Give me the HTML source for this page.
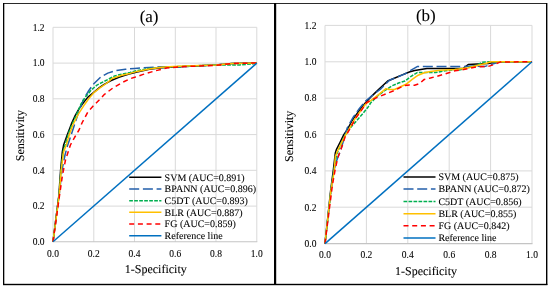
<!DOCTYPE html>
<html><head><meta charset="utf-8"><title>ROC curves</title>
<style>
html,body{margin:0;padding:0;background:#fff;width:550px;height:288px;overflow:hidden;}
svg{display:block;filter:blur(0.3px);}
text{font-family:"Liberation Serif", "Times New Roman", serif;text-rendering:geometricPrecision;fill:#000;stroke:#000;stroke-width:0.08px;}
.t{font-size:9.5px;text-rendering:auto;}
.lg{font-size:10px;}
.at{font-size:12px;}
.ti{font-size:17px;}
</style></head><body>
<svg width="550" height="288" viewBox="0 0 550 288">
<rect width="550" height="288" fill="#fff"/>
<line x1="53.0" y1="206.1" x2="256.8" y2="206.1" stroke="#D9D9D9" stroke-width="1"/>
<line x1="53.0" y1="170.3" x2="256.8" y2="170.3" stroke="#D9D9D9" stroke-width="1"/>
<line x1="53.0" y1="134.6" x2="256.8" y2="134.6" stroke="#D9D9D9" stroke-width="1"/>
<line x1="53.0" y1="98.8" x2="256.8" y2="98.8" stroke="#D9D9D9" stroke-width="1"/>
<line x1="53.0" y1="63.1" x2="256.8" y2="63.1" stroke="#D9D9D9" stroke-width="1"/>
<line x1="53.0" y1="27.3" x2="256.8" y2="27.3" stroke="#D9D9D9" stroke-width="1"/>
<line x1="53.0" y1="27.3" x2="53.0" y2="241.8" stroke="#D9D9D9" stroke-width="1"/>
<line x1="93.8" y1="27.3" x2="93.8" y2="241.8" stroke="#D9D9D9" stroke-width="1"/>
<line x1="134.5" y1="27.3" x2="134.5" y2="241.8" stroke="#D9D9D9" stroke-width="1"/>
<line x1="175.3" y1="27.3" x2="175.3" y2="241.8" stroke="#D9D9D9" stroke-width="1"/>
<line x1="216.0" y1="27.3" x2="216.0" y2="241.8" stroke="#D9D9D9" stroke-width="1"/>
<line x1="256.8" y1="27.3" x2="256.8" y2="241.8" stroke="#D9D9D9" stroke-width="1"/>
<line x1="52.5" y1="241.8" x2="257.3" y2="241.8" stroke="#C4C4C4" stroke-width="1.1"/>
<text x="44.5" y="245" text-anchor="end" class="t">0.0</text>
<text x="44.5" y="209" text-anchor="end" class="t">0.2</text>
<text x="44.5" y="174" text-anchor="end" class="t">0.4</text>
<text x="44.5" y="138" text-anchor="end" class="t">0.6</text>
<text x="44.5" y="102" text-anchor="end" class="t">0.8</text>
<text x="44.5" y="66" text-anchor="end" class="t">1.0</text>
<text x="44.5" y="31" text-anchor="end" class="t">1.2</text>
<text x="53.0" y="257.0" text-anchor="middle" class="t">0.0</text>
<text x="93.8" y="257.0" text-anchor="middle" class="t">0.2</text>
<text x="134.5" y="257.0" text-anchor="middle" class="t">0.4</text>
<text x="175.3" y="257.0" text-anchor="middle" class="t">0.6</text>
<text x="216.0" y="257.0" text-anchor="middle" class="t">0.8</text>
<text x="256.8" y="257.0" text-anchor="middle" class="t">1.0</text>
<polyline points="53.0,241.8 58.9,195.0 60.6,170.0 62.3,152.0 63.7,144.7 67.2,135.0 71.4,123.9 74.6,116.7 79.4,108.2 83.2,103.0 87.7,97.4 93.5,92.6 99.4,87.7 104.2,84.3 110.6,80.8 118.9,77.3 125.0,75.4 130.0,73.8 137.2,72.0 149.3,69.3 161.5,67.8 185.0,66.5 216.0,64.9 232.0,63.4 256.8,63.0" fill="none" stroke="#000000" stroke-width="1.5" stroke-linejoin="round"/>
<polyline points="53.0,241.8 59.2,195.0 62.0,170.0 65.0,155.0 67.4,146.0 70.7,136.4 74.8,123.9 79.0,111.0 83.6,99.2 88.0,91.8 93.2,84.3 100.5,77.3 107.8,73.1 116.1,70.6 125.5,69.3 134.7,68.4 149.3,67.4 161.5,66.8 185.0,66.6 216.0,64.9 232.0,63.4 256.8,63.0" fill="none" stroke="#235FAA" stroke-width="1.5" stroke-linejoin="round" stroke-dasharray="10 3.7"/>
<polyline points="53.0,241.8 59.0,195.0 61.0,170.0 63.5,150.0 66.5,140.0 70.0,129.0 73.4,121.6 78.2,110.7 80.9,104.2 85.8,96.4 91.6,89.7 97.4,84.8 103.2,81.9 108.0,79.5 114.7,75.9 121.7,74.2 130.0,72.4 137.2,70.6 149.3,68.4 165.1,67.2 185.0,66.2 216.0,65.0 240.0,64.9 256.8,63.5" fill="none" stroke="#00B050" stroke-width="1.5" stroke-linejoin="round" stroke-dasharray="3.7 1.3"/>
<polyline points="53.0,241.8 59.2,195.0 61.2,170.0 63.5,152.0 66.3,145.0 69.2,135.0 72.8,125.0 78.2,114.3 84.8,104.2 89.7,97.4 94.5,92.1 100.3,87.7 107.0,83.0 112.0,78.5 121.7,75.2 130.0,73.4 137.2,71.4 149.3,69.0 161.5,67.2 173.6,66.5 185.0,66.0 216.0,64.9 232.0,63.4 256.8,63.0" fill="none" stroke="#FFC000" stroke-width="1.5" stroke-linejoin="round"/>
<polyline points="53.0,241.8 59.6,195.0 62.5,175.0 65.5,160.0 70.4,145.0 74.5,137.5 79.0,130.0 82.2,122.5 87.9,111.9 94.2,105.0 99.4,99.8 104.5,94.3 113.3,87.7 121.7,82.8 130.0,78.7 134.7,77.3 143.2,74.4 155.4,70.8 167.5,67.8 185.0,66.6 216.0,65.3 232.0,63.5 256.8,63.0" fill="none" stroke="#FF0000" stroke-width="1.5" stroke-linejoin="round" stroke-dasharray="5 3.7"/>
<line x1="53.0" y1="241.8" x2="256.8" y2="63.1" stroke="#0070C0" stroke-width="1.5"/>
<line x1="129.2" y1="177.3" x2="161.4" y2="177.3" stroke="#000000" stroke-width="1.5"/>
<text x="164.6" y="181" class="lg">SVM (AUC=0.891)</text>
<line x1="129.2" y1="189.1" x2="161.4" y2="189.1" stroke="#235FAA" stroke-width="1.5" stroke-dasharray="10 3.7"/>
<text x="164.6" y="192" class="lg">BPANN (AUC=0.896)</text>
<line x1="129.2" y1="200.7" x2="161.4" y2="200.7" stroke="#00B050" stroke-width="1.5" stroke-dasharray="3.7 1.3"/>
<text x="164.6" y="204" class="lg">C5DT (AUC=0.893)</text>
<line x1="129.2" y1="212.2" x2="161.4" y2="212.2" stroke="#FFC000" stroke-width="1.5"/>
<text x="164.6" y="216" class="lg">BLR (AUC=0.887)</text>
<line x1="129.2" y1="224.0" x2="161.4" y2="224.0" stroke="#FF0000" stroke-width="1.5" stroke-dasharray="5 3.7"/>
<text x="164.6" y="227" class="lg">FG (AUC=0.859)</text>
<line x1="129.2" y1="235.8" x2="161.4" y2="235.8" stroke="#0070C0" stroke-width="1.5"/>
<text x="164.6" y="239" class="lg">Reference line</text>
<text x="149.1" y="22.1" text-anchor="middle" class="ti">(a)</text>
<text transform="translate(24.0,135.6) rotate(-90)" text-anchor="middle" class="at">Sensitivity</text>
<text x="155.8" y="273.2" text-anchor="middle" class="at">1-Specificity</text>
<line x1="325.0" y1="207.2" x2="532.0" y2="207.2" stroke="#D9D9D9" stroke-width="1"/>
<line x1="325.0" y1="170.9" x2="532.0" y2="170.9" stroke="#D9D9D9" stroke-width="1"/>
<line x1="325.0" y1="134.5" x2="532.0" y2="134.5" stroke="#D9D9D9" stroke-width="1"/>
<line x1="325.0" y1="98.2" x2="532.0" y2="98.2" stroke="#D9D9D9" stroke-width="1"/>
<line x1="325.0" y1="61.8" x2="532.0" y2="61.8" stroke="#D9D9D9" stroke-width="1"/>
<line x1="325.0" y1="25.4" x2="532.0" y2="25.4" stroke="#D9D9D9" stroke-width="1"/>
<line x1="325.0" y1="25.4" x2="325.0" y2="243.6" stroke="#D9D9D9" stroke-width="1"/>
<line x1="366.4" y1="25.4" x2="366.4" y2="243.6" stroke="#D9D9D9" stroke-width="1"/>
<line x1="407.8" y1="25.4" x2="407.8" y2="243.6" stroke="#D9D9D9" stroke-width="1"/>
<line x1="449.2" y1="25.4" x2="449.2" y2="243.6" stroke="#D9D9D9" stroke-width="1"/>
<line x1="490.6" y1="25.4" x2="490.6" y2="243.6" stroke="#D9D9D9" stroke-width="1"/>
<line x1="532.0" y1="25.4" x2="532.0" y2="243.6" stroke="#D9D9D9" stroke-width="1"/>
<line x1="324.5" y1="243.6" x2="532.5" y2="243.6" stroke="#C4C4C4" stroke-width="1.1"/>
<text x="316.4" y="247" text-anchor="end" class="t">0.0</text>
<text x="316.4" y="211" text-anchor="end" class="t">0.2</text>
<text x="316.4" y="174" text-anchor="end" class="t">0.4</text>
<text x="316.4" y="138" text-anchor="end" class="t">0.6</text>
<text x="316.4" y="101" text-anchor="end" class="t">0.8</text>
<text x="316.4" y="65" text-anchor="end" class="t">1.0</text>
<text x="316.4" y="29" text-anchor="end" class="t">1.2</text>
<text x="325.0" y="258.2" text-anchor="middle" class="t">0.0</text>
<text x="366.4" y="258.2" text-anchor="middle" class="t">0.2</text>
<text x="407.8" y="258.2" text-anchor="middle" class="t">0.4</text>
<text x="449.2" y="258.2" text-anchor="middle" class="t">0.6</text>
<text x="490.6" y="258.2" text-anchor="middle" class="t">0.8</text>
<text x="532.0" y="258.2" text-anchor="middle" class="t">1.0</text>
<polyline points="325.0,243.5 330.7,190.0 333.3,170.4 335.3,153.0 336.5,149.3 340.2,142.0 343.8,134.7 347.4,129.3 352.2,120.5 358.2,112.0 364.3,104.1 370.4,97.4 378.5,89.6 387.7,81.0 394.3,78.2 401.6,75.1 410.0,71.8 414.7,70.6 426.9,68.4 441.5,68.4 450.0,68.6 463.6,68.2 468.2,64.5 477.3,64.1 488.2,63.6 495.5,62.3 500.0,61.9 532.0,61.7" fill="none" stroke="#000000" stroke-width="1.5" stroke-linejoin="round"/>
<polyline points="325.0,243.5 331.0,190.0 334.0,170.0 335.9,162.6 337.7,157.8 340.2,151.7 343.8,139.6 347.3,127.8 353.4,116.9 359.4,108.4 365.5,101.1 372.8,95.0 380.9,88.8 389.4,80.3 396.0,77.6 405.0,73.9 411.1,70.2 417.2,66.6 423.2,66.6 455.0,66.6 463.6,66.4 472.7,65.9 484.5,66.6 490.9,64.5 500.0,61.9 532.0,61.7" fill="none" stroke="#235FAA" stroke-width="1.5" stroke-linejoin="round" stroke-dasharray="10 3.7"/>
<polyline points="325.0,243.5 331.0,190.0 334.0,170.0 336.5,155.0 340.0,146.0 344.0,137.0 348.5,130.0 355.8,121.7 363.1,113.2 368.0,107.2 370.6,103.0 377.3,96.1 384.6,90.7 391.9,85.8 399.2,82.8 405.0,81.0 411.1,76.3 417.2,72.6 423.2,72.6 435.4,72.6 445.1,70.8 455.0,69.6 459.1,70.0 468.2,67.7 477.3,65.0 481.8,62.3 488.2,61.8 532.0,61.7" fill="none" stroke="#00B050" stroke-width="1.5" stroke-linejoin="round" stroke-dasharray="3.7 1.3"/>
<polyline points="325.0,243.5 331.0,190.0 334.2,171.3 335.3,156.6 337.7,150.5 341.4,143.2 345.0,136.0 348.7,129.9 354.6,119.3 360.7,110.8 366.0,103.5 370.4,100.8 377.3,95.6 386.0,88.6 389.0,89.5 394.5,89.5 400.0,87.0 406.0,84.3 412.2,79.4 418.2,75.2 424.3,72.8 430.4,71.5 440.0,70.3 455.0,69.4 468.2,67.7 486.4,63.2 490.9,61.8 532.0,61.7" fill="none" stroke="#FFC000" stroke-width="1.5" stroke-linejoin="round"/>
<polyline points="325.0,243.5 332.4,185.1 335.0,170.4 337.7,157.8 341.4,148.1 345.0,137.2 349.3,129.9 355.8,118.1 361.9,109.6 366.7,102.5 370.4,100.6 377.3,97.3 386.0,93.9 394.7,90.4 400.0,87.6 403.6,85.6 409.7,84.9 414.6,85.3 419.4,83.7 424.3,79.4 430.4,78.0 436.5,76.4 445.1,73.9 455.0,70.8 463.6,69.5 477.3,66.8 488.2,66.4 495.5,64.1 500.0,62.1 532.0,61.7" fill="none" stroke="#FF0000" stroke-width="1.5" stroke-linejoin="round" stroke-dasharray="5 3.7"/>
<line x1="325.0" y1="243.6" x2="532.0" y2="61.8" stroke="#0070C0" stroke-width="1.5"/>
<line x1="403.5" y1="176.9" x2="435.5" y2="176.9" stroke="#000000" stroke-width="1.5"/>
<text x="438.4" y="180" class="lg">SVM (AUC=0.875)</text>
<line x1="403.5" y1="188.9" x2="435.5" y2="188.9" stroke="#235FAA" stroke-width="1.5" stroke-dasharray="10 3.7"/>
<text x="438.4" y="192" class="lg">BPANN (AUC=0.872)</text>
<line x1="403.5" y1="201.4" x2="435.5" y2="201.4" stroke="#00B050" stroke-width="1.5" stroke-dasharray="3.7 1.3"/>
<text x="438.4" y="205" class="lg">C5DT (AUC=0.856)</text>
<line x1="403.5" y1="213.7" x2="435.5" y2="213.7" stroke="#FFC000" stroke-width="1.5"/>
<text x="438.4" y="217" class="lg">BLR (AUC=0.855)</text>
<line x1="403.5" y1="225.8" x2="435.5" y2="225.8" stroke="#FF0000" stroke-width="1.5" stroke-dasharray="5 3.7"/>
<text x="438.4" y="229" class="lg">FG (AUC=0.842)</text>
<line x1="403.5" y1="238.1" x2="435.5" y2="238.1" stroke="#0070C0" stroke-width="1.5"/>
<text x="438.4" y="241" class="lg">Reference line</text>
<text x="425.8" y="21.0" text-anchor="middle" class="ti">(b)</text>
<text transform="translate(293.2,136.3) rotate(-90)" text-anchor="middle" class="at">Sensitivity</text>
<text x="426.0" y="274.5" text-anchor="middle" class="at">1-Specificity</text>
<rect x="3" y="3" width="544" height="1" fill="#2a2a2a"/>
<rect x="3" y="3" width="1.3" height="282" fill="#000"/>
<rect x="274" y="3" width="2.2" height="282" fill="#000"/>
<rect x="546" y="3" width="1.4" height="282" fill="#000"/>
<rect x="3" y="283.8" width="544.4" height="1.4" fill="#000"/>
</svg>
</body></html>
